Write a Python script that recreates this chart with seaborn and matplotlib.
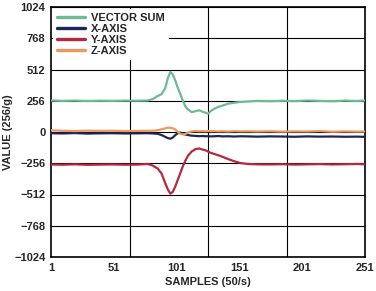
import matplotlib
matplotlib.use("Agg")
import matplotlib.pyplot as plt
import seaborn as sns
import pandas as pd

samples = [1, 10, 20, 30, 40, 50, 60, 70, 78, 82, 86, 89, 92, 94, 96, 98, 100,
           102, 104, 106, 108, 110, 113, 116, 119, 122, 124, 126, 128, 131, 134,
           138, 142, 147, 152, 158, 165, 175, 185, 195, 205, 215, 225, 235, 245, 251]

vector_sum = [258, 255, 257, 254, 256, 255, 257, 256, 258, 270, 295, 310, 360, 440, 492, 470, 420,
              360, 310, 255, 210, 185, 163, 170, 178, 165, 158, 150, 170, 190, 205,
              218, 232, 240, 246, 250, 255, 252, 256, 253, 258, 255, 252, 257, 254, 258]

x_axis = [-10, -12, -9, -13, -11, -10, -12, -11, -10, -12, -15, -25, -40, -50, -55, -45, -25,
          -10, -5, -15, -20, -25, -30, -32, -34, -33, -35, -34, -36, -35, -33,
          -36, -35, -37, -35, -36, -38, -36, -37, -39, -36, -38, -37, -39, -38, -40]

y_axis = [-266, -268, -265, -269, -267, -266, -268, -267, -262, -275, -300, -340, -420, -470, -505, -490, -445,
          -390, -335, -280, -235, -195, -160, -140, -135, -145, -150, -160, -170, -180, -190,
          -205, -222, -240, -255, -262, -265, -266, -264, -267, -265, -263, -266, -264, -262, -265]

z_axis = [14, 10, 8, 11, 9, 10, 8, 9, 10, 10, 15, 22, 30, 35, 35, 30, 20,
          0, -15, -20, -15, -5, 5, 8, 6, 7, 5, 8, 6, 7, 5,
          6, 4, 7, 5, 6, 4, 6, 3, 5, 4, 8, 2, 5, 3, 4]

series_names = ["VECTOR SUM", "X-AXIS", "Y-AXIS", "Z-AXIS"]
series_colors = ["#6cbb92", "#1e2658", "#b8283c", "#e99a60"]

x_labels = ["1", "51", "101", "151", "201", "251"]
y_ticks = [1024, 768, 512, 256, 0, -256, -512, -768, -1024]

frames = []
for name, vals in zip(series_names, [vector_sum, x_axis, y_axis, z_axis]):
    frames.append(pd.DataFrame({"sample": samples, "value": vals, "series": name}))
df = pd.concat(frames, ignore_index=True)

sns.set_style("white")
plt.rcParams["font.family"] = ["Liberation Sans", "DejaVu Sans"]
plt.rcParams["font.weight"] = "bold"

fig = plt.figure(figsize=(3.76, 2.91), dpi=100)
ax = fig.add_axes([51 / 376, 1 - 257 / 291, (365 - 51) / 376, (257 - 7) / 291])

sns.lineplot(data=df, x="sample", y="value", hue="series", hue_order=series_names,
             palette=series_colors, linewidth=1.6, ax=ax, legend=True, zorder=3)

ax.set_xlim(1, 251)
ax.set_ylim(-1024, 1024)
ax.set_xticks([int(v) for v in x_labels])
ax.set_xticklabels(x_labels, fontsize=8, fontweight="bold")
ax.set_xticks([1 + 250 * k / 4 for k in (1, 2, 3)], minor=True)
ax.set_yticks(y_ticks)
ax.set_yticklabels([str(v).replace("-", "\u2212") for v in y_ticks], fontsize=8, fontweight="bold")
ax.tick_params(axis="both", which="both", length=0, pad=4)
ax.grid(False)
ax.grid(True, axis="x", which="minor", color="black", linewidth=0.8)
ax.grid(True, axis="y", which="major", color="black", linewidth=0.8)
ax.set_axisbelow(True)
for s in ax.spines.values():
    s.set_color("black")
    s.set_linewidth(1.2)

ax.set_xlabel("SAMPLES (50/s)", fontsize=8, fontweight="bold", labelpad=3)
ax.set_ylabel("VALUE (256/g)", fontsize=8, fontweight="bold", labelpad=1)

leg = ax.legend(loc="upper left", bbox_to_anchor=(0, 1), borderaxespad=0.15,
                frameon=True, fancybox=False, framealpha=1, facecolor="white",
                edgecolor="none", fontsize=8, handlelength=2.6, handletextpad=0.5,
                labelspacing=0.1, borderpad=0.35)
for t in leg.get_texts():
    t.set_fontweight("bold")
for h in leg.get_lines():
    h.set_linewidth(2.4)
leg.set_zorder(5)

fig.savefig("out.png", dpi=100)
